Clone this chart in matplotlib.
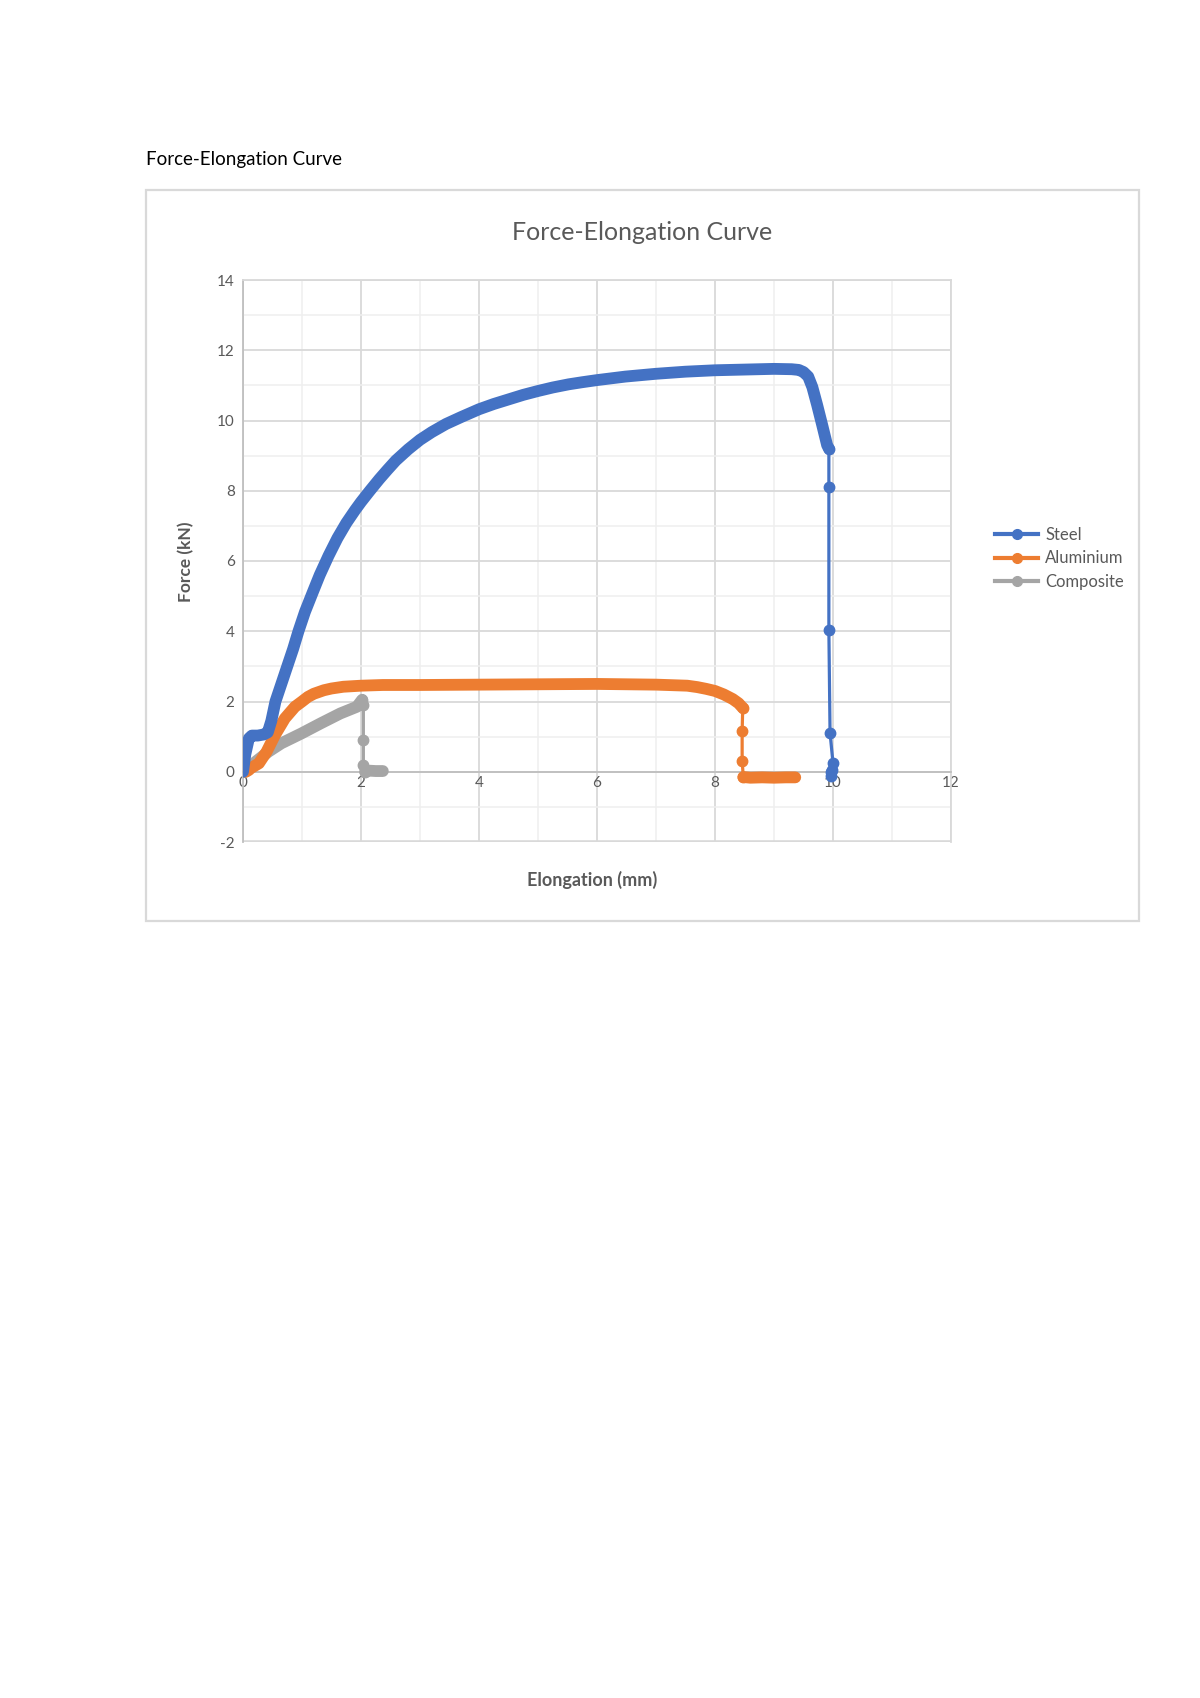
import matplotlib
matplotlib.use('Agg')
import matplotlib.pyplot as plt
from matplotlib.lines import Line2D
from matplotlib.patches import Rectangle

plt.rcParams['font.family'] = ['Lato', 'DejaVu Sans']
plt.rcParams['axes.unicode_minus'] = False

# Steel: dense test record, then the few points after fracture
steel_x = [0, 0.04, 0.1, 0.15, 0.25, 0.35, 0.42, 0.48, 0.55, 0.65, 0.75, 0.85, 0.94, 1.05, 1.18,
           1.3, 1.45, 1.6, 1.75, 1.9, 2.0, 2.15, 2.31, 2.45, 2.59, 2.8, 3.0, 3.2, 3.44, 3.7,
           4.0, 4.25, 4.5, 4.75, 5.0, 5.25, 5.52, 5.75, 6.0, 6.48, 7.0, 7.5, 8.0, 8.5, 9.0,
           9.3, 9.42, 9.5, 9.58, 9.65, 9.73, 9.82, 9.9, 9.93]
steel_y = [0, 0.5, 0.95, 1.03, 1.03, 1.06, 1.12, 1.45, 2.0, 2.5, 3.0, 3.5, 4.0, 4.55, 5.1,
           5.6, 6.15, 6.65, 7.08, 7.45, 7.68, 8.0, 8.33, 8.6, 8.86, 9.18, 9.45, 9.67, 9.9, 10.1,
           10.32, 10.47, 10.6, 10.73, 10.84, 10.94, 11.03, 11.09, 11.15, 11.25, 11.33, 11.39, 11.43, 11.45, 11.47,
           11.46, 11.44, 11.38, 11.25, 10.95, 10.45, 9.85, 9.3, 9.2]
steel_break_x = [9.93, 9.93, 9.93, 9.95, 10.0, 9.98, 9.96, 9.97]
steel_break_y = [9.2, 8.1, 4.03, 1.1, 0.25, 0.05, -0.12, -0.02]

# Aluminium
alu_x = [0.05, 0.1, 0.13, 0.27, 0.4, 0.54, 0.71, 0.88, 1.0, 1.1, 1.2, 1.37, 1.5, 1.7, 2.0,
         2.37, 3.0, 4.0, 5.0, 6.0, 7.0, 7.53, 7.7, 7.85, 8.0, 8.15, 8.3, 8.4, 8.47]
alu_y = [0, 0.05, 0.1, 0.24, 0.57, 1.04, 1.52, 1.85, 2.0, 2.13, 2.22, 2.32, 2.37, 2.42, 2.45,
         2.47, 2.47, 2.48, 2.49, 2.5, 2.48, 2.45, 2.41, 2.36, 2.3, 2.2, 2.07, 1.95, 1.82]
alu_break_x = [8.47, 8.46, 8.46, 8.48]
alu_break_y = [1.82, 1.15, 0.3, -0.15]
alu_rest_x = [8.48, 8.6, 8.8, 9.0, 9.2, 9.36]
alu_rest_y = [-0.15, -0.17, -0.16, -0.17, -0.16, -0.16]

# Composite
comp_x = [0, 0.04, 0.21, 0.43, 0.65, 0.99, 1.32, 1.65, 1.93, 2.02]
comp_y = [0, 0, 0.28, 0.57, 0.81, 1.09, 1.38, 1.66, 1.85, 2.05]
comp_break_x = [2.02, 2.04, 2.04, 2.04, 2.07]
comp_break_y = [2.05, 1.9, 0.9, 0.19, 0.0]
comp_rest_x = [2.07, 2.15, 2.25, 2.37]
comp_rest_y = [0.0, 0.03, 0.02, 0.02]

x_ticks = [0, 2, 4, 6, 8, 10, 12]
y_ticks = [-2, 0, 2, 4, 6, 8, 10, 12, 14]

BLUE = '#4472C4'
ORANGE = '#ED7D31'
GREY = '#A5A5A5'
TXT = '#595959'
GRID = '#D9D9D9'

W, H = 1200, 1698
fig = plt.figure(figsize=(W / 100, H / 100), dpi=100)
fig.patch.set_facecolor('white')

# chart frame and page heading
fig.patches.append(Rectangle((146 / W, 1 - 921 / H), (1139 - 146) / W, (921 - 190) / H,
                             transform=fig.transFigure, fill=False, edgecolor=GRID, lw=1.6))
fig.text(146 / W, 1 - 159 / H, 'Force-Elongation Curve', ha='left', va='center',
         fontsize=13.5, color='black')
fig.text(642 / W, 1 - 233 / H, 'Force-Elongation Curve', ha='center', va='center',
         fontsize=18, color=TXT)

ax = fig.add_axes([243 / W, 1 - 842 / H, 708 / W, 562 / H])
ax.set_xlim(0, 12)
ax.set_ylim(-2, 14)
ax.set_xticks(x_ticks)
ax.set_yticks(y_ticks)
ax.set_xticks(range(1, 12, 2), minor=True)
ax.set_yticks(range(-1, 14, 2), minor=True)
ax.grid(which='major', color=GRID, lw=1.3)
ax.grid(which='minor', color='#EFEFEF', lw=1.1)
ax.set_axisbelow(True)
ax.axhline(-2, color=GRID, lw=2.6, clip_on=True, zorder=1)
for s in ax.spines.values():
    s.set_color(GRID)
    s.set_linewidth(1.3)
ax.spines['bottom'].set_position(('data', 0))
ax.spines['bottom'].set_color('#BFBFBF')
ax.spines['left'].set_color('#BFBFBF')
ax.tick_params(which='both', length=0, labelsize=11, colors=TXT)
ax.tick_params(axis='y', pad=6)
ax.tick_params(axis='x', pad=3)

band = dict(lw=8.5, solid_capstyle='round', solid_joinstyle='round')
thin = dict(lw=2.3, marker='o', ms=7.5)

ax.plot(comp_x, comp_y, color=GREY, zorder=3, **band)
ax.plot(comp_break_x, comp_break_y, color=GREY, zorder=3, **thin)
ax.plot(comp_rest_x, comp_rest_y, color=GREY, zorder=3, **band)

ax.plot(alu_x, alu_y, color=ORANGE, zorder=4, **band)
ax.plot(alu_break_x, alu_break_y, color=ORANGE, zorder=4, **thin)
ax.plot(alu_rest_x, alu_rest_y, color=ORANGE, zorder=4, **band)

ax.plot(steel_x, steel_y, color=BLUE, zorder=5, **band)
ax.plot(steel_break_x, steel_break_y, color=BLUE, zorder=5, **thin)

fig.text(186 / W, 1 - 562 / H, 'Force (kN)', rotation=90, ha='center', va='center',
         fontsize=12.5, fontweight='bold', color=TXT)
fig.text(592 / W, 1 - 880 / H, 'Elongation (mm)', ha='center', va='center',
         fontsize=13, fontweight='bold', color=TXT)

handles = [Line2D([], [], color=c, lw=3, marker='o', ms=7) for c in (BLUE, ORANGE, GREY)]
fig.legend(handles, ['Steel', 'Aluminium', 'Composite'], loc='upper left',
           bbox_to_anchor=(980 / W, 1 - 512 / H), frameon=False, fontsize=12,
           labelcolor=TXT, handlelength=2.6, handletextpad=0.4, labelspacing=0.45)

fig.savefig('out.png', dpi=100)
